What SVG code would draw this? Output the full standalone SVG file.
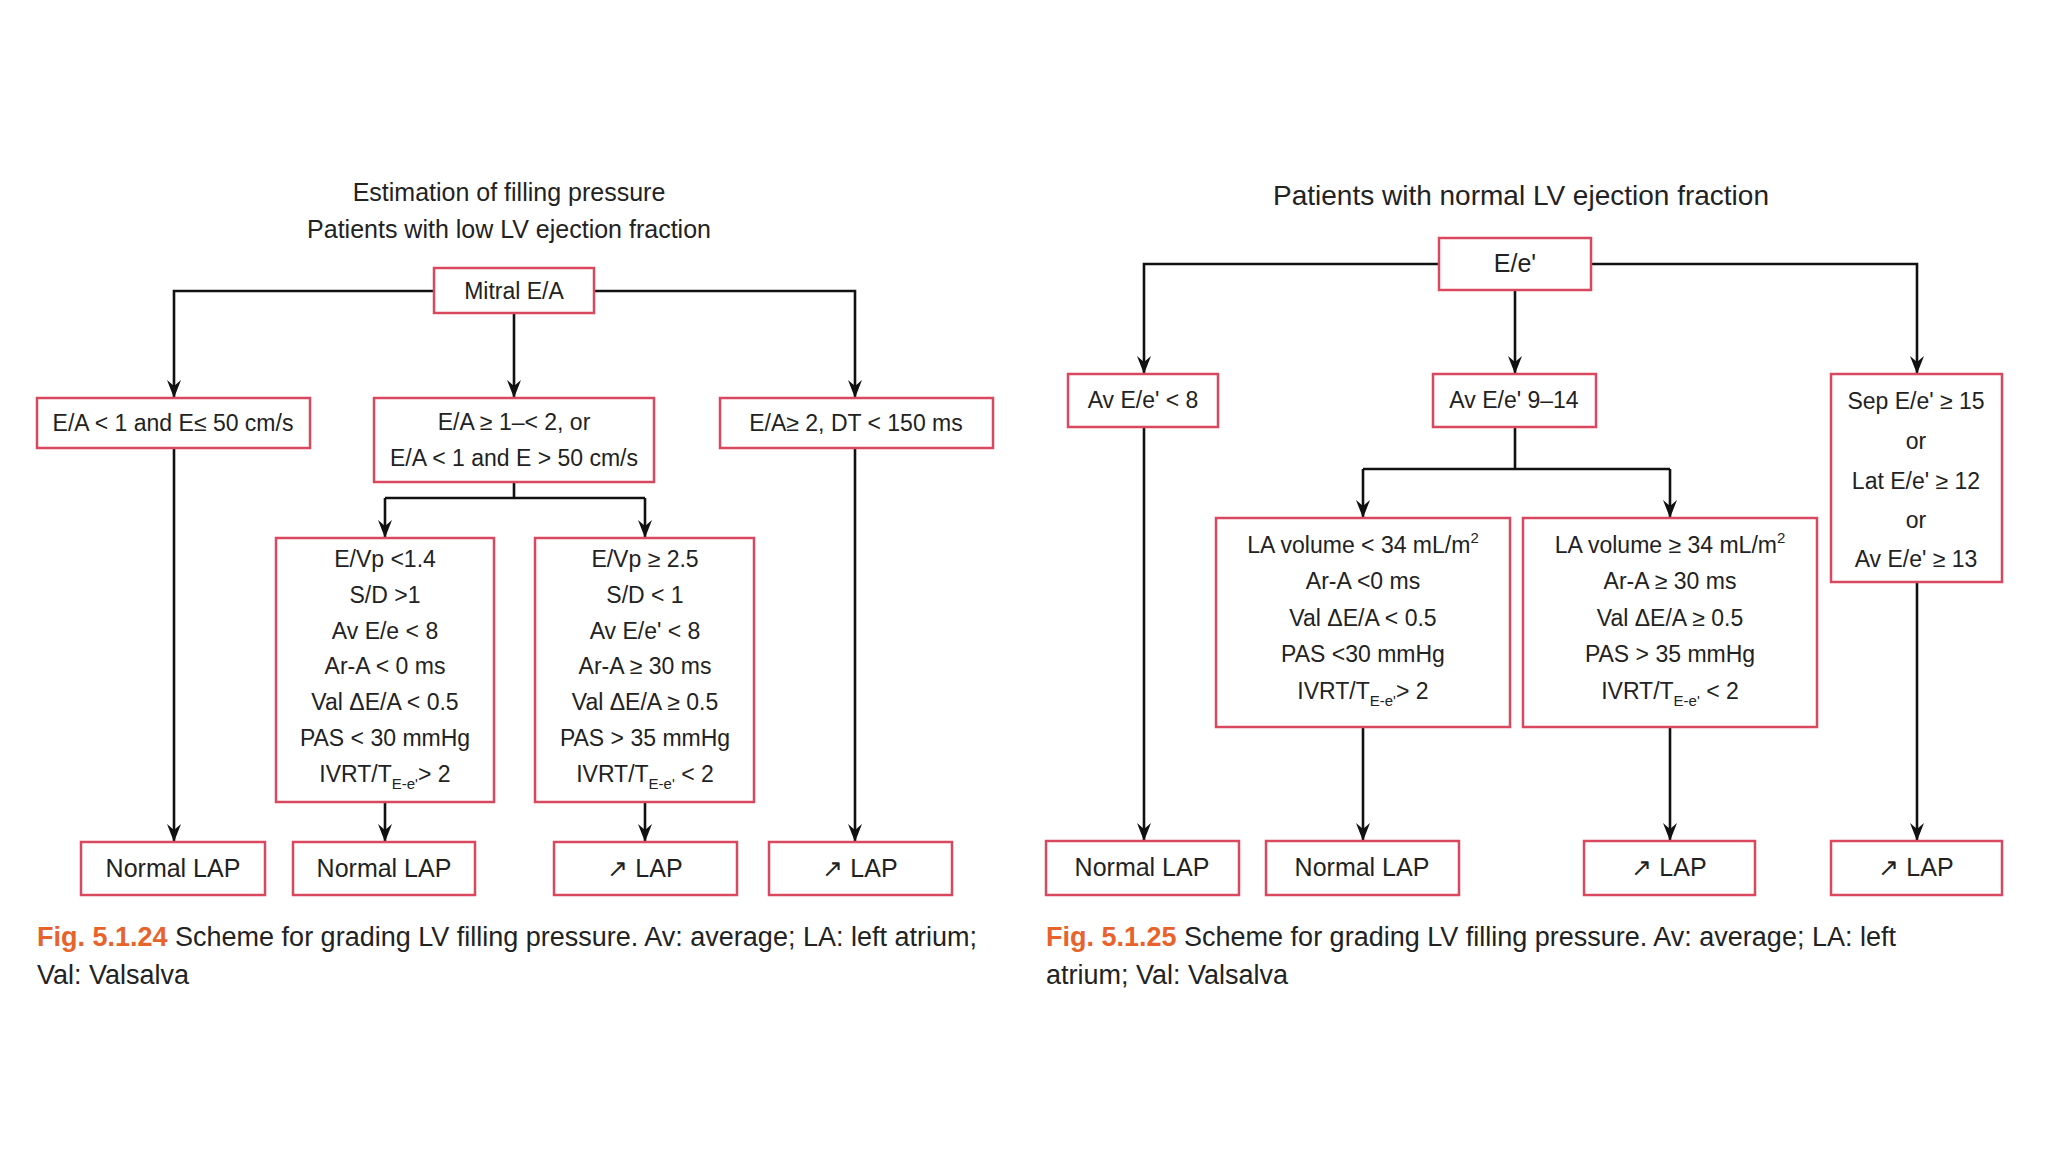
<svg xmlns="http://www.w3.org/2000/svg" width="2048" height="1152" viewBox="0 0 2048 1152">
<style>
text{font-family:"Liberation Sans",Arial,sans-serif;fill:#222;text-anchor:middle}
.b{fill:#fff;stroke:#d9485f;stroke-width:2.5}
.t{font-size:23px}
.h{font-size:25px}
.c{font-size:27px;text-anchor:start}
.f{fill:#e8632c;font-weight:bold}
.l{fill:none;stroke:#111;stroke-width:2.6}
.s{font-size:15px}
</style>
<defs><marker id="a" markerWidth="12" markerHeight="16" refX="6" refY="14" orient="auto-start-reverse" markerUnits="userSpaceOnUse" viewBox="0 0 12 16"><path d="M0,0 L6,16 L12,0 L6,5 Z" fill="#111" transform="rotate(0)"/></marker>
<marker id="d" markerWidth="14" markerHeight="18" refX="7" refY="17" orient="0" markerUnits="userSpaceOnUse" viewBox="0 0 14 18"><path d="M0,0 L7,18 L14,0 L7,6 Z" fill="#111"/></marker></defs>
<rect width="2048" height="1152" fill="#fff"/>
<text class="h" x="509" y="201">Estimation of filling pressure</text>
<text class="h" x="509" y="238">Patients with low LV ejection fraction</text>
<text class="h" x="1521" y="205" style="font-size:28px">Patients with normal LV ejection fraction</text>
<g id="connectors" class="l">
<path class="l" d="M434,291 H174 V397" marker-end="url(#d)"/>
<path class="l" d="M594,291 H855 V397" marker-end="url(#d)"/>
<path class="l" d="M514,313 V397" marker-end="url(#d)"/>
<path class="l" d="M514,482 V498 M385,498 H645"/>
<path class="l" d="M385,498 V537" marker-end="url(#d)"/>
<path class="l" d="M645,498 V537" marker-end="url(#d)"/>
<path class="l" d="M174,448 V841" marker-end="url(#d)"/>
<path class="l" d="M855,448 V841" marker-end="url(#d)"/>
<path class="l" d="M385,802 V841" marker-end="url(#d)"/>
<path class="l" d="M645,802 V841" marker-end="url(#d)"/>
<path class="l" d="M1439,264 H1144 V373" marker-end="url(#d)"/>
<path class="l" d="M1591,264 H1917 V373" marker-end="url(#d)"/>
<path class="l" d="M1515,290 V373" marker-end="url(#d)"/>
<path class="l" d="M1515,427 V469 M1363,469 H1670"/>
<path class="l" d="M1363,469 V517" marker-end="url(#d)"/>
<path class="l" d="M1670,469 V517" marker-end="url(#d)"/>
<path class="l" d="M1144,427 V840" marker-end="url(#d)"/>
<path class="l" d="M1363,727 V840" marker-end="url(#d)"/>
<path class="l" d="M1670,727 V840" marker-end="url(#d)"/>
<path class="l" d="M1917,582 V840" marker-end="url(#d)"/>
</g>
<g id="mitral"><rect class="b" x="434" y="268" width="160" height="45"/><text class="t" x="514" y="299">Mitral E/A</text></g>
<g id="l1"><rect class="b" x="37" y="398" width="273" height="50"/><text class="t" x="173" y="431">E/A &lt; 1 and E≤ 50 cm/s</text></g>
<g id="l2"><rect class="b" x="374" y="398" width="280" height="84"/><text class="t" x="514" y="430">E/A ≥ 1–&lt; 2, or</text><text class="t" x="514" y="466">E/A &lt; 1 and E &gt; 50 cm/s</text></g>
<g id="l3"><rect class="b" x="720" y="398" width="273" height="50"/><text class="t" x="856" y="431">E/A≥ 2, DT &lt; 150 ms</text></g>
<g id="l4"><rect class="b" x="276" y="538" width="218" height="264"/>
<text class="t" x="385" y="567">E/Vp &lt;1.4</text><text class="t" x="385" y="603">S/D &gt;1</text><text class="t" x="385" y="639">Av E/e &lt; 8</text><text class="t" x="385" y="674">Ar-A &lt; 0 ms</text><text class="t" x="385" y="710">Val ΔE/A &lt; 0.5</text><text class="t" x="385" y="746">PAS &lt; 30 mmHg</text><text class="t" x="385" y="782">IVRT/T<tspan class="s" dy="7">E-e'</tspan><tspan dy="-7">&gt; 2</tspan></text></g>
<g id="l5"><rect class="b" x="535" y="538" width="219" height="264"/>
<text class="t" x="645" y="567">E/Vp ≥ 2.5</text><text class="t" x="645" y="603">S/D &lt; 1</text><text class="t" x="645" y="639">Av E/e' &lt; 8</text><text class="t" x="645" y="674">Ar-A ≥ 30 ms</text><text class="t" x="645" y="710">Val ΔE/A ≥ 0.5</text><text class="t" x="645" y="746">PAS &gt; 35 mmHg</text><text class="t" x="645" y="782">IVRT/T<tspan class="s" dy="7">E-e'</tspan><tspan dy="-7"> &lt; 2</tspan></text></g>
<g id="o1"><rect class="b" x="81" y="842" width="184" height="53"/><text class="h" x="173" y="877">Normal LAP</text></g>
<g id="o2"><rect class="b" x="293" y="842" width="182" height="53"/><text class="h" x="384" y="877">Normal LAP</text></g>
<g id="o3"><rect class="b" x="554" y="842" width="183" height="53"/><text class="h" x="645" y="877">↗ LAP</text></g>
<g id="o4"><rect class="b" x="769" y="842" width="183" height="53"/><text class="h" x="860" y="877">↗ LAP</text></g>
<g id="ee"><rect class="b" x="1439" y="238" width="152" height="52"/><text class="h" x="1515" y="272">E/e'</text></g>
<g id="r1"><rect class="b" x="1068" y="374" width="150" height="53"/><text class="t" x="1143" y="408">Av E/e' &lt; 8</text></g>
<g id="r2"><rect class="b" x="1433" y="374" width="163" height="53"/><text class="t" x="1514" y="408">Av E/e' 9–14</text></g>
<g id="r3"><rect class="b" x="1831" y="374" width="171" height="208"/>
<text class="t" x="1916" y="409">Sep E/e' ≥ 15</text><text class="t" x="1916" y="449">or</text><text class="t" x="1916" y="489">Lat E/e' ≥ 12</text><text class="t" x="1916" y="528">or</text><text class="t" x="1916" y="567">Av E/e' ≥ 13</text></g>
<g id="r4"><rect class="b" x="1216" y="518" width="294" height="209"/>
<text class="t" x="1363" y="553">LA volume &lt; 34 mL/m<tspan class="s" dy="-10">2</tspan></text><text class="t" x="1363" y="589">Ar-A &lt;0 ms</text><text class="t" x="1363" y="626">Val ΔE/A &lt; 0.5</text><text class="t" x="1363" y="662">PAS &lt;30 mmHg</text><text class="t" x="1363" y="699">IVRT/T<tspan class="s" dy="7">E-e'</tspan><tspan dy="-7">&gt; 2</tspan></text></g>
<g id="r5"><rect class="b" x="1523" y="518" width="294" height="209"/>
<text class="t" x="1670" y="553">LA volume ≥ 34 mL/m<tspan class="s" dy="-10">2</tspan></text><text class="t" x="1670" y="589">Ar-A ≥ 30 ms</text><text class="t" x="1670" y="626">Val ΔE/A ≥ 0.5</text><text class="t" x="1670" y="662">PAS &gt; 35 mmHg</text><text class="t" x="1670" y="699">IVRT/T<tspan class="s" dy="7">E-e'</tspan><tspan dy="-7"> &lt; 2</tspan></text></g>
<g id="p1"><rect class="b" x="1046" y="841" width="193" height="54"/><text class="h" x="1142" y="876">Normal LAP</text></g>
<g id="p2"><rect class="b" x="1266" y="841" width="193" height="54"/><text class="h" x="1362" y="876">Normal LAP</text></g>
<g id="p3"><rect class="b" x="1584" y="841" width="171" height="54"/><text class="h" x="1669" y="876">↗ LAP</text></g>
<g id="p4"><rect class="b" x="1831" y="841" width="171" height="54"/><text class="h" x="1916" y="876">↗ LAP</text></g>
<text class="c" x="37" y="946"><tspan class="f">Fig. 5.1.24</tspan>  Scheme for grading LV filling pressure. Av: average; LA: left atrium;</text>
<text class="c" x="37" y="984">Val: Valsalva</text>
<text class="c" x="1046" y="946"><tspan class="f">Fig. 5.1.25</tspan>  Scheme for grading LV filling pressure. Av: average; LA: left</text>
<text class="c" x="1046" y="984">atrium; Val: Valsalva</text>
</svg>
